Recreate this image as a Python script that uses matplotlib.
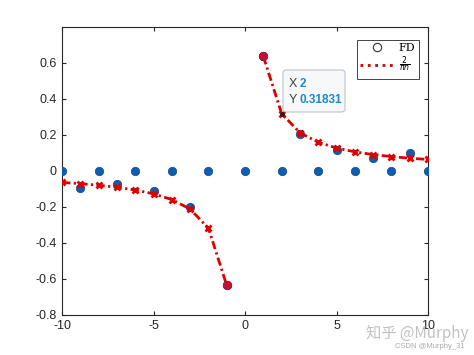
import matplotlib
matplotlib.use("Agg")
import matplotlib.pyplot as plt
from matplotlib.lines import Line2D
from matplotlib.patches import FancyBboxPatch

plt.rcParams['font.family'] = ['Liberation Sans', 'Noto Sans CJK SC', 'DejaVu Sans']

# FD samples (n = -10..10)
n_fd = [-10, -9, -8, -7, -6, -5, -4, -3, -2, -1, 0, 1, 2, 3, 4, 5, 6, 7, 8, 9, 10]
fd_vals = [0, -0.096, 0, -0.070, 0, -0.110, 0, -0.203, 0, -0.635, 0,
           0.637, 0, 0.204, 0, 0.114, 0, 0.073, 0, 0.098, 0]

# analytic 2/(pi n)
n_neg = [-10, -9, -8, -7, -6, -5, -4, -3, -2, -1]
th_neg = [-0.0637, -0.0707, -0.0796, -0.0909, -0.1061, -0.1273, -0.1592, -0.2122, -0.3183, -0.6366]
n_pos = [1, 2, 3, 4, 5, 6, 7, 8, 9, 10]
th_pos = [0.6366, 0.3183, 0.2122, 0.1592, 0.1273, 0.1061, 0.0909, 0.0796, 0.0707, 0.0637]

# endpoints highlighted
n_end = [-1, 1]
end_vals = [-0.6366, 0.6366]

# datatip
tip_x = 2
tip_y = 0.31831

xticks = [-10, -5, 0, 5, 10]
xticklabels = ['-10', '-5', '0', '5', '10']
yticks = [-0.8, -0.6, -0.4, -0.2, 0, 0.2, 0.4, 0.6]
yticklabels = ['-0.8', '-0.6', '-0.4', '-0.2', '0', '0.2', '0.4', '0.6']

fig = plt.figure(figsize=(4.74, 3.55), dpi=100)
ax = fig.add_axes([0.131, 0.113, 0.772, 0.811])

blue = '#0a5fb4'
red = '#dd0000'
dash = (3.0, 1.2, 0.8, 1.2)

ax.plot(n_fd, fd_vals, 'o', color=blue, markersize=6, markeredgecolor='#1f4f8a',
        markeredgewidth=0.6, zorder=3)
for xs, ys in ((n_neg, th_neg), (n_pos, th_pos)):
    ln, = ax.plot(xs, ys, color=red, linewidth=2, marker='x',
                  markersize=5, markeredgewidth=2, zorder=4)
    ln.set_dashes(dash)
ax.plot(n_end, end_vals, 'o', color='#c8102e', markersize=6, markeredgecolor='#8a1a5a',
        markeredgewidth=0.6, zorder=5)
ax.plot([tip_x], [tip_y], 'o', color='#222222', markersize=2.5, zorder=6)

ax.set_xlim(-10, 10)
ax.set_ylim(-0.8, 0.8)
ax.set_xticks(xticks)
ax.set_xticklabels(xticklabels)
ax.set_yticks(yticks)
ax.set_yticklabels(yticklabels)
ax.tick_params(direction='in', top=True, right=True, length=3, width=0.8,
               labelsize=9, colors='#262626', labelcolor='#262626', pad=4)
for s in ax.spines.values():
    s.set_color('#262626')
    s.set_linewidth(0.8)

# legend
h1 = Line2D([], [], linestyle='none', marker='o', markerfacecolor='none',
            markeredgecolor='#333333', markersize=6, markeredgewidth=0.8)
h2 = Line2D([], [], linestyle=':', color='#cc0000', linewidth=2)
leg = ax.legend([h1, h2], ['FD', r'$\frac{2}{\pi n}$'], loc='upper right',
                bbox_to_anchor=(0.99, 0.975), fancybox=False, edgecolor='#262626',
                framealpha=1, handlelength=3.0, handletextpad=0.5,
                borderpad=0.3, labelspacing=0.2, markerfirst=True,
                prop={'family': 'DejaVu Serif', 'size': 8})
leg.get_frame().set_linewidth(0.6)

# datatip box (in figure pixels -> fraction)
W, H = 474, 355
bx0, by0, bx1, by1 = 283, 70, 345, 112
box = FancyBboxPatch((bx0 / W, 1 - by1 / H), (bx1 - bx0) / W, (by1 - by0) / H,
                     boxstyle='round,pad=0,rounding_size=0.008',
                     transform=fig.transFigure, facecolor='#f7f8fa',
                     edgecolor='#b8c4d0', linewidth=0.8, zorder=10)
fig.patches.append(box)
tipblue = '#1a8ad0'
fig.text(289 / W, 1 - 84 / H, 'X', fontsize=9, color='#404040', va='center', ha='left', zorder=11)
fig.text(300 / W, 1 - 84 / H, '2', fontsize=8.5, color=tipblue, fontweight='bold', va='center', ha='left', zorder=11)
fig.text(289 / W, 1 - 100 / H, 'Y', fontsize=9, color='#404040', va='center', ha='left', zorder=11)
fig.text(300 / W, 1 - 100 / H, '0.31831', fontsize=8.5, color=tipblue, fontweight='bold', va='center', ha='left', zorder=11)

# watermark
fig.text(366 / W, 1 - 333 / H, '知乎 @Murphy', fontsize=11, color='#bbbbbb',
         alpha=0.9, va='center', ha='left', family=['Noto Sans CJK SC', 'DejaVu Sans'], zorder=12)
fig.text(465 / W, 1 - 347 / H, 'CSDN @Murphy_31', fontsize=5.5, color='#aaaaaa',
         va='center', ha='right', zorder=12)

fig.savefig('out.png', dpi=100)
